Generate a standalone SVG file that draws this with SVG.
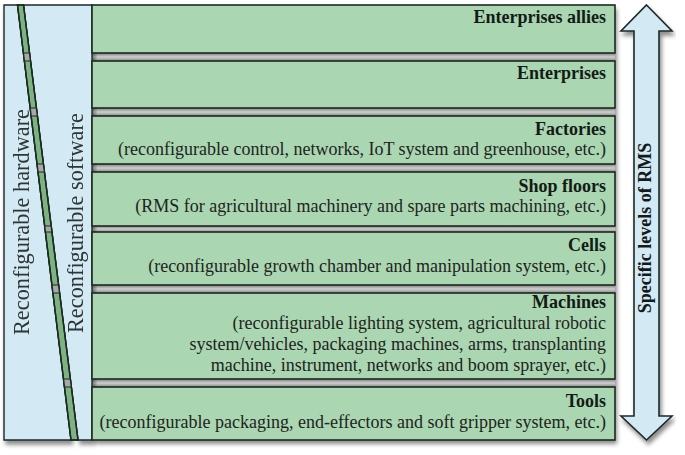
<svg xmlns="http://www.w3.org/2000/svg" width="685" height="455" viewBox="0 0 685 455">
  <defs>
    <filter id="shadow" x="-5%" y="-5%" width="112%" height="115%">
      <feDropShadow dx="2" dy="4" stdDeviation="2.2" flood-color="#000" flood-opacity="0.45"/>
    </filter>
    <linearGradient id="gapGrad" x1="0" y1="0" x2="0" y2="1">
      <stop offset="0" stop-color="#7c7c7c"/>
      <stop offset="0.5" stop-color="#cfcfcf"/>
      <stop offset="1" stop-color="#888888"/>
    </linearGradient>
    <clipPath id="stripClip">
      <polygon points="17.5,5 23.5,5 78,440 71,440"/>
    </clipPath>
    <style>
      .row { fill: #aad6b2; stroke: #1c2a20; stroke-width: 1.6; }
      .gap { fill: url(#gapGrad); }
      .blue { fill: #d3e9f3; stroke: #1c2a28; stroke-width: 1.4; }
      .strip { fill: #7db383; stroke: #1c2a20; stroke-width: 1.4; }
      .mark { fill: #a8a8a8; stroke: #1c2a20; stroke-width: 1; }
      .title { font-family: "Liberation Serif", "Times New Roman", serif; font-weight: bold; font-size: 18px; fill: #141a16; text-anchor: end; }
      .sub { font-family: "Liberation Serif", "Times New Roman", serif; font-size: 18px; fill: #1e2420; text-anchor: end; }
      .side { font-family: "Liberation Serif", "Times New Roman", serif; font-size: 22.3px; fill: #2e3436; }
      .arrowLabel { font-family: "Liberation Serif", "Times New Roman", serif; font-weight: bold; font-size: 18px; fill: #141a1c; text-anchor: middle; }
      .arrow { fill: #d3e9f3; stroke: #1c2a28; stroke-width: 1.6; stroke-linejoin: miter; }
    </style>
  </defs>

  <!-- background / gaps -->
  <g id="shelf" filter="url(#shadow)">
    <rect x="92" y="5" width="523" height="435" fill="#8a8a8a"/>
    <rect class="gap" x="92" y="53" width="523" height="8"/>
    <rect class="gap" x="92" y="108" width="523" height="8"/>
    <rect class="gap" x="92" y="164" width="523" height="8"/>
    <rect class="gap" x="92" y="226" width="523" height="6"/>
    <rect class="gap" x="92" y="285" width="523" height="8"/>
    <rect class="gap" x="92" y="379" width="523" height="8"/>
  </g>

  <!-- left panel -->
  <g id="reconfigurable-hardware" filter="url(#shadow)">
    <polygon class="blue" points="4,5 17.5,5 71,440 4,440"/>
    <text class="side" transform="translate(29,335) rotate(-90)">Reconfigurable hardware</text>
  </g>
  <g id="reconfigurable-software" filter="url(#shadow)">
    <polygon class="blue" points="23.5,5 92,5 92,440 78,440"/>
    <text class="side" transform="translate(83,333) rotate(-90)">Reconfigurable software</text>
  </g>
  <g id="strip">
    <polygon class="strip" points="17.5,5 23.5,5 78,440 71,440"/>
    <g clip-path="url(#stripClip)">
      <rect class="mark" x="10" y="53" width="80" height="8"/>
      <rect class="mark" x="10" y="108" width="80" height="8"/>
      <rect class="mark" x="10" y="164" width="80" height="8"/>
      <rect class="mark" x="10" y="226" width="80" height="6"/>
      <rect class="mark" x="10" y="285" width="80" height="8"/>
      <rect class="mark" x="10" y="379" width="80" height="8"/>
    </g>
    <polygon fill="none" stroke="#1c2a20" stroke-width="1.4" points="17.5,5 23.5,5 78,440 71,440"/>
  </g>

  <!-- levels -->
  <g id="enterprises-allies">
    <rect class="row" x="92" y="5" width="523" height="48"/>
    <text class="title" x="606" y="23">Enterprises allies</text>
  </g>
  <g id="enterprises">
    <rect class="row" x="92" y="61" width="523" height="47"/>
    <text class="title" x="606" y="79">Enterprises</text>
  </g>
  <g id="factories">
    <rect class="row" x="92" y="116" width="523" height="48"/>
    <text class="title" x="606" y="135">Factories</text>
    <text class="sub" x="606" y="155">(reconfigurable control, networks, IoT system and greenhouse, etc.)</text>
  </g>
  <g id="shop-floors">
    <rect class="row" x="92" y="172" width="523" height="54"/>
    <text class="title" x="606" y="192">Shop floors</text>
    <text class="sub" x="606" y="212">(RMS for agricultural machinery and spare parts machining, etc.)</text>
  </g>
  <g id="cells">
    <rect class="row" x="92" y="232" width="523" height="53"/>
    <text class="title" x="606" y="251">Cells</text>
    <text class="sub" x="606" y="272">(reconfigurable growth chamber and manipulation system, etc.)</text>
  </g>
  <g id="machines">
    <rect class="row" x="92" y="293" width="523" height="86"/>
    <text class="title" x="606" y="308">Machines</text>
    <text class="sub" x="606" y="329">(reconfigurable lighting system, agricultural robotic</text>
    <text class="sub" x="606" y="350">system/vehicles, packaging machines, arms, transplanting</text>
    <text class="sub" x="606" y="371">machine, instrument, networks and boom sprayer, etc.)</text>
  </g>
  <g id="tools">
    <rect class="row" x="92" y="387" width="523" height="53"/>
    <text class="title" x="606" y="407">Tools</text>
    <text class="sub" x="606" y="428">(reconfigurable packaging, end-effectors and soft gripper system, etc.)</text>
  </g>

  <!-- connectors -->
  <g id="connectors">
    <g id="levels-arrow" filter="url(#shadow)">
      <polygon class="arrow" points="646.5,5 672,31 659,31 659,416 672,416 646.5,440 621,416 634,416 634,31 621,31"/>
    </g>
    <text class="arrowLabel" transform="translate(651,228) rotate(-90)">Specific levels of RMS</text>
  </g>
</svg>
